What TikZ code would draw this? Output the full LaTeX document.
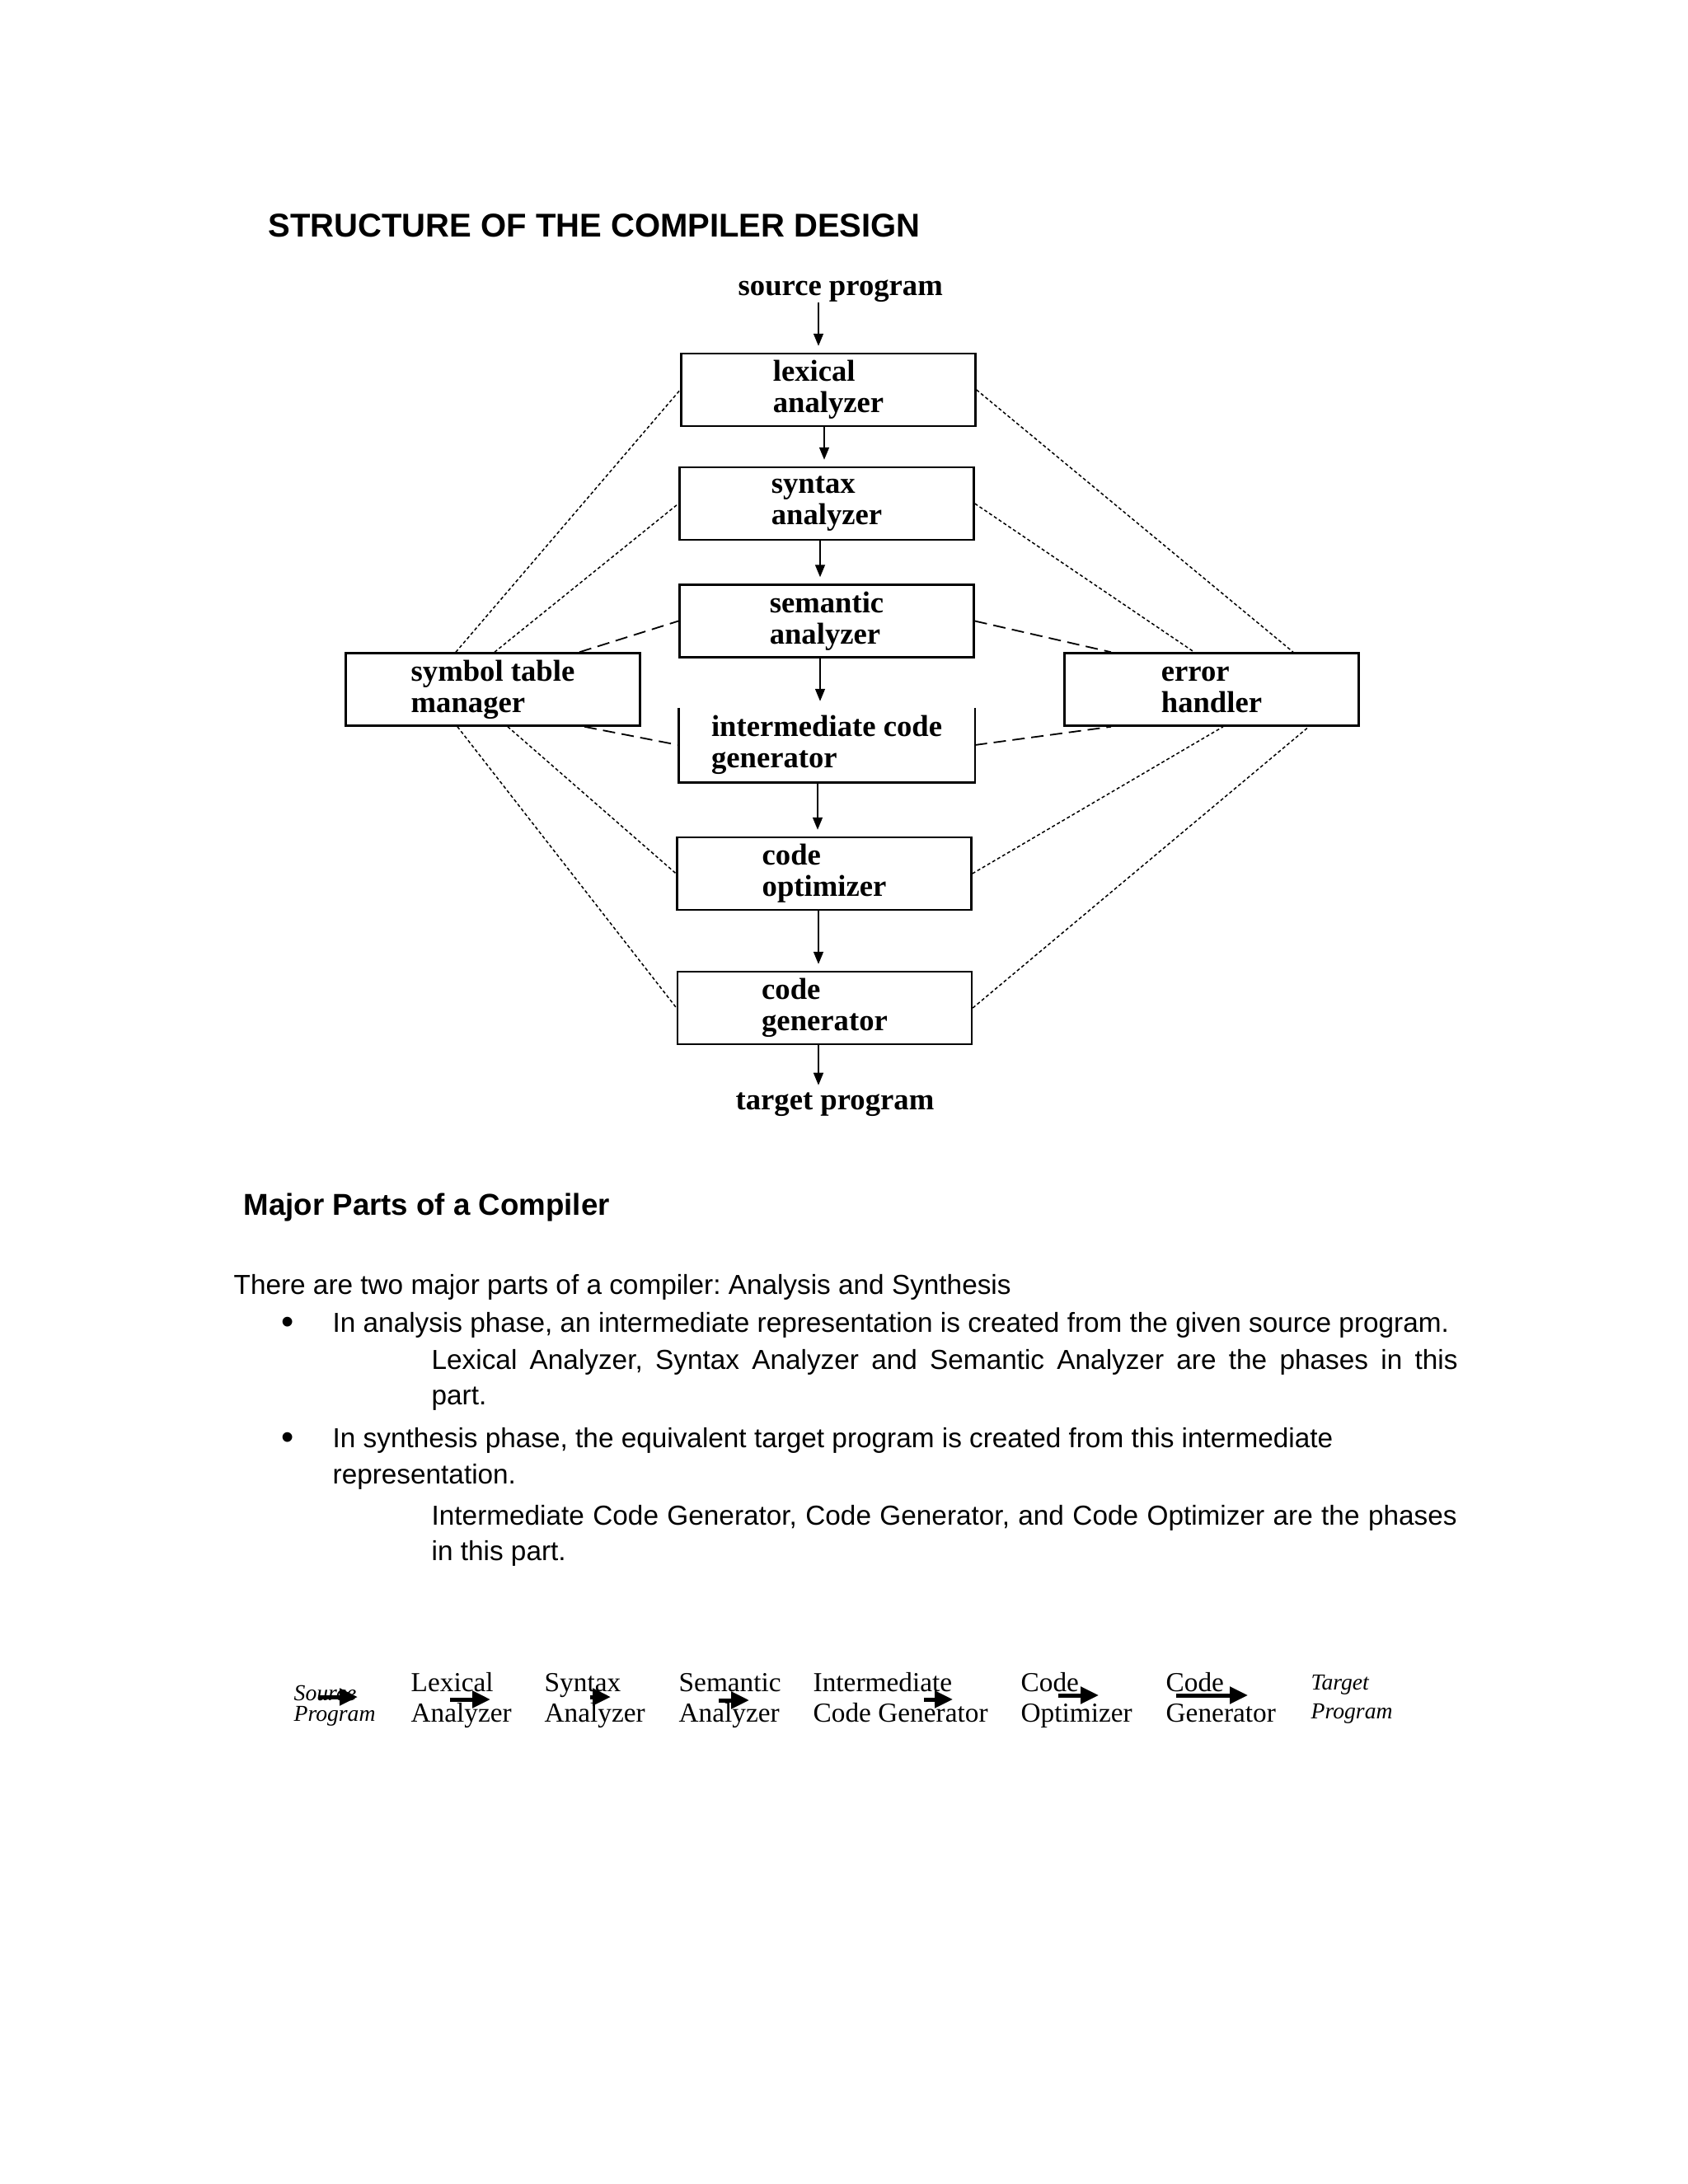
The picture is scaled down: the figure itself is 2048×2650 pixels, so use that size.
\documentclass[tikz,border=0pt]{standalone}
\usepackage{fontspec}
\setmainfont{Liberation Serif}
\newfontfamily\arialfont{Liberation Sans}
\usetikzlibrary{arrows.meta}
\frenchspacing

\begin{document}
\begin{tikzpicture}[x=0.3pt,y=-0.3pt,
	box/.style={draw,line width=0.75pt,minimum width=107.1pt,minimum height=26.4pt,inner sep=0pt,align=left,font=\fontsize{11pt}{11.4pt}\selectfont\bfseries},
	label/.style={inner sep=0pt,anchor=base west,font=\fontsize{11pt}{11.4pt}\selectfont\bfseries},
	flow/.style={-{Triangle[length=4.5pt,width=3.6pt]},line width=0.45pt,shorten >=2.4pt},
	link/.style={line width=0.45pt,dash pattern=on 1.2pt off 0.9pt},
	longlink/.style={line width=0.55pt,dash pattern=on 4.5pt off 2.4pt},
	body/.style={anchor=base west,inner sep=0pt,font=\arialfont\fontsize{10pt}{12pt}\selectfont},
	dot/.style={anchor=base,inner sep=0pt,font=\arialfont\fontsize{13pt}{14pt}\selectfont},
	phase/.style={anchor=base west,inner sep=0pt,align=left,font=\fontsize{10pt}{11.1pt}\selectfont},
	bigarrow/.style={-{Triangle[length=6.6pt,width=6pt]},line width=1.5pt}]
	%\draw[help lines] (0,0) grid[step=100] (2048,2650);
	\fill[white] (0,0) rectangle (2048,2650);

	% headings and text
	\node[body,font=\arialfont\fontsize{12pt}{14pt}\selectfont\bfseries] (head) at (325,287) {STRUCTURE OF THE COMPILER DESIGN};
	\node[body,font=\arialfont\fontsize{11pt}{13pt}\selectfont\bfseries] (partshead) at (295,1474) {Major Parts of a Compiler};
	\node[body] (intro) at (283,1570) {There are two major parts of a compiler: Analysis and Synthesis};
	\node[dot] (dotA) at (349,1618) {\textbullet};
	\node[body] (anaA) at (403,1616) {In analysis phase, an intermediate representation is created from the given source program.};
	\node[body] (anaB) at (523,1661) {\makebox[373.5pt][s]{Lexical Analyzer, Syntax Analyzer and Semantic Analyzer are the phases in this}};
	\node[body] (anaC) at (523,1704) {part.};
	\node[dot] (dotB) at (349,1758) {\textbullet};
	\node[body] (synA) at (403,1756) {In synthesis phase, the equivalent target program is created from this intermediate};
	\node[body] (synB) at (403,1800) {representation.};
	\node[body] (synC) at (523,1850) {\makebox[373.2pt][s]{Intermediate Code Generator, Code Generator, and Code Optimizer are the phases}};
	\node[body] (synD) at (523,1893) {in this part.};

	% compiler structure
	\node[label] (src) at (895,358) {source program};
	\node[box] (lex) at (1005,473) {lexical\\analyzer};
	\node[box] (syn) at (1003,611) {syntax\\analyzer};
	\node[box] (sem) at (1003,753.5) {semantic\\analyzer};
	\node[box,draw=none] (icg) at (1003,904) {intermediate code\\generator};
	\draw[line width=0.75pt] (icg.north west) -- (icg.south west) -- (icg.south east) -- (icg.north east);
	\node[box] (opt) at (1000,1060) {code\\optimizer};
	\node[box] (gen) at (1000.5,1223) {code\\generator};
	\node[label] (tgt) at (892,1346) {target program};
	\node[box] (sym) at (598,836.5) {symbol table\\manager};
	\node[box] (err) at (1470,836.5) {error\\handler};

	\coordinate (a0) at ([xshift=-3.6pt]lex.north);
	\coordinate (a1) at ([xshift=-0.9pt]syn.north);
	\coordinate (a2) at ([xshift=-2.4pt]sem.north);
	\coordinate (a3) at ([xshift=-2.4pt]icg.north);
	\coordinate (a4) at ([xshift=-2.4pt]opt.north);
	\coordinate (a5) at ([xshift=-2.25pt]gen.north);
	\coordinate (a6) at ([xshift=-2.25pt]gen.south);
	\draw[flow] (a0 |- src.south) -- (a0);
	\draw[flow] (a1 |- lex.south) -- (a1);
	\draw[flow] (a2 |- syn.south) -- (a2);
	\draw[flow] (a3 |- sem.south) -- (a3);
	\draw[flow] (a4 |- icg.south) -- (a4);
	\draw[flow] (a5 |- opt.south) -- (a5);
	\draw[flow] (a6) -- (a6 |- tgt.north);

	\draw[link] ([xshift=-13.5pt]sym.north) -- (lex.west);
	\draw[link] ([xshift=0.6pt]sym.north) -- (syn.west);
	\draw[longlink] ([xshift=31.5pt]sym.north) -- (sem.west);
	\draw[longlink] ([xshift=33.3pt]sym.south) -- (icg.west);
	\draw[link] ([xshift=5.4pt]sym.south) -- (opt.west);
	\draw[link] ([xshift=-12.9pt]sym.south) -- (gen.west);

	\draw[link] (lex.east) -- ([xshift=29.7pt]err.north);
	\draw[link] (syn.east) -- ([xshift=-6.3pt]err.north);
	\draw[longlink] (sem.east) -- ([xshift=-36.6pt]err.north);
	\draw[longlink] (icg.east) -- ([xshift=-36.6pt]err.south);
	\draw[link] (opt.east) -- ([xshift=4.2pt]err.south);
	\draw[link] (gen.east) -- ([xshift=35.4pt]err.south);

	% phases in a row (base is the second line)
	\node[phase,font=\itshape\fontsize{8.3pt}{7.5pt}\selectfont] (srcp) at (356,2088) {Source\\Program};
	\node[phase] (lexp) at (498,2089) {Lexical\\Analyzer};
	\node[phase] (synp) at (660,2089) {Syntax\\Analyzer};
	\node[phase] (semp) at (823,2089) {Semantic\\Analyzer};
	\node[phase] (icgp) at (986,2089) {Intermediate\\Code Generator};
	\node[phase] (optp) at (1238,2089) {Code\\Optimizer};
	\node[phase] (genp) at (1414,2089) {Code\\Generator};
	\node[phase,font=\itshape\fontsize{8.3pt}{10.5pt}\selectfont] (tgtp) at (1590,2085) {Target\\Program};
	\foreach \i/\xa/\xb/\yy in {1/386/434/2059, 2/546/595/2062, 3/716/741/2059, 4/872/909/2063, 5/1121/1156/2062, 6/1284/1333/2057, 7/1427/1514/2057}
	{
		\coordinate (tail\i) at (\xa,\yy);
		\coordinate (tip\i) at (\xb,\yy);
		\draw[bigarrow] (tail\i) -- (tip\i);
	}
\end{tikzpicture}
\end{document}
